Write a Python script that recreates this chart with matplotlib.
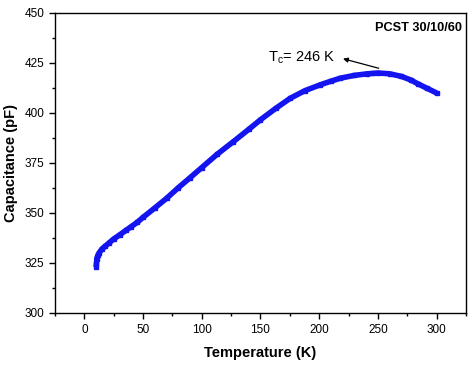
import matplotlib
matplotlib.use("Agg")
import matplotlib.pyplot as plt
from matplotlib.ticker import MultipleLocator

plt.rcParams['font.family'] = ['Liberation Sans', 'DejaVu Sans']

temperature = [10, 10.3, 10.6, 11.5, 12.8, 15, 18, 21.4, 25, 30, 35.7, 40, 45, 50, 60, 70,
               80, 90, 100, 113, 127, 140, 150, 163, 175.5, 188, 201, 210, 218, 230,
               241, 246, 250, 260, 270, 278, 284, 292, 300]
capacitance = [323, 324.5, 327.2, 328.8, 330.2, 332, 333.5, 335.2, 337, 339, 341.4, 343.2, 345.3,
               347.8, 352.5, 357.3, 362.6, 367.6, 372.7, 379.3, 385.7, 391.8, 396.6, 402.3,
               407.4, 411.2, 414.1, 415.9, 417.4, 418.8, 419.6, 419.8, 420, 419.6, 418.3,
               416.5, 414.6, 412.3, 410]

fig = plt.figure(figsize=(4.74, 3.66), dpi=100)
ax = fig.add_axes([0.116, 0.145, 0.867, 0.8195])

ax.plot(temperature, capacitance, color='#1414f0', lw=4.0, marker='s', ms=3,
        solid_capstyle='butt', solid_joinstyle='round')

ax.set_xlim(-25, 325)
ax.set_ylim(300, 450)
ax.xaxis.set_major_locator(MultipleLocator(50))
ax.xaxis.set_minor_locator(MultipleLocator(25))
ax.yaxis.set_major_locator(MultipleLocator(25))
ax.yaxis.set_minor_locator(MultipleLocator(12.5))
ax.tick_params(which='both', direction='out', top=False, right=False, labelsize=8.5, width=1)
ax.tick_params(which='major', length=4)
ax.tick_params(which='minor', length=2.2)
ax.tick_params(axis='x', which='major', pad=4)
ax.tick_params(axis='y', which='major', pad=3.5)
for s in ax.spines.values():
    s.set_linewidth(1)

ax.set_xlabel('Temperature (K)', fontsize=10.5, fontweight='bold', labelpad=7)
ax.set_ylabel('Capacitance (pF)', fontsize=10.5, fontweight='bold', labelpad=5)

ax.text(0.99, 0.97, 'PCST 30/10/60', transform=ax.transAxes, ha='right', va='top',
        fontsize=9.2, fontweight='bold')
ax.annotate('', xy=(218, 427.5), xytext=(253, 422),
            arrowprops=dict(arrowstyle='-|>', color='black', lw=0.9, mutation_scale=7))
ax.text(156, 426, r'T$_\mathregular{c}$= 246 K', fontsize=10.5, ha='left', va='baseline')

fig.savefig('out.png', dpi=100)
